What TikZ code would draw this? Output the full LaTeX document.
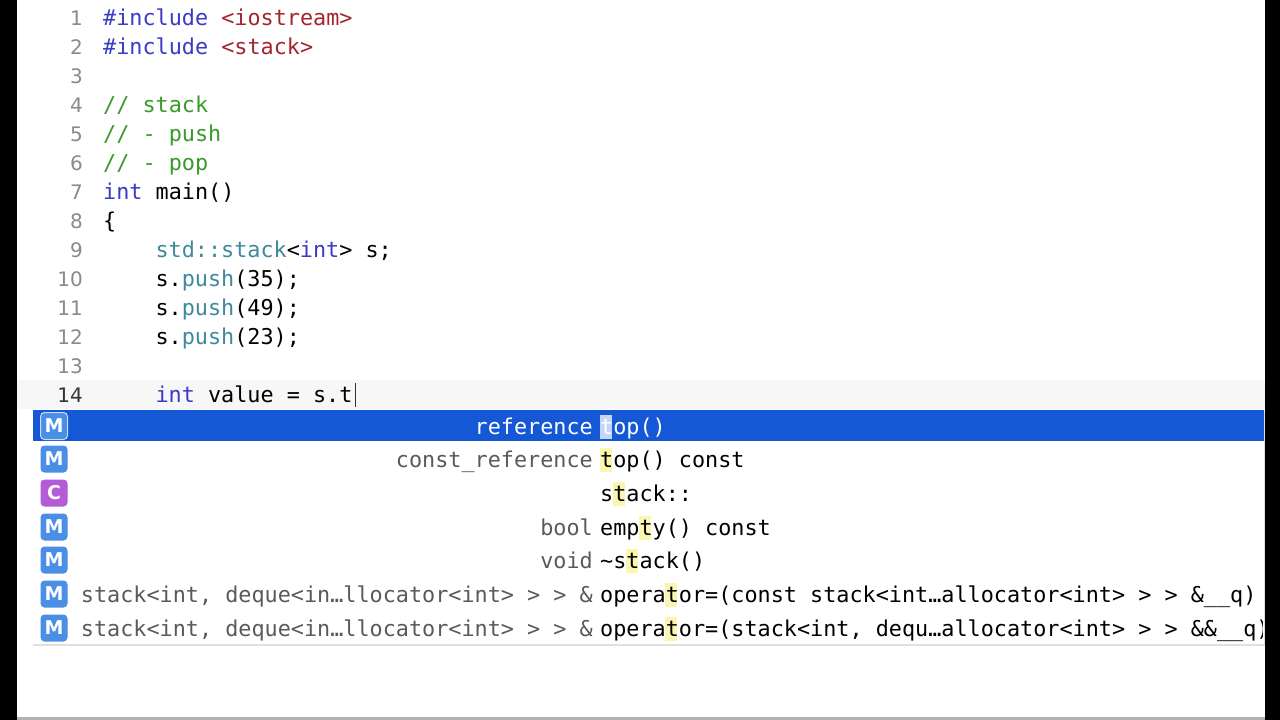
\documentclass[tikz,border=0pt]{standalone}
\usepackage{fontspec}
\setmonofont{DejaVu Sans Mono}
\setsansfont{DejaVu Sans}
\definecolor{kw}{HTML}{3B3BC4}
\definecolor{str}{HTML}{A3262E}
\definecolor{cmt}{HTML}{3A9A2A}
\definecolor{fn}{HTML}{3E8A9C}
\definecolor{gut}{HTML}{8A8A8A}
\definecolor{sel}{HTML}{1458D6}
\definecolor{micon}{HTML}{4A8EE6}
\definecolor{cicon}{HTML}{B25CD8}
\definecolor{hl}{HTML}{FAF6B0}
\definecolor{rt}{HTML}{5A5A5A}
\begin{document}
\begin{tikzpicture}[x=1pt,y=-1pt,
  code/.style={anchor=base west,inner sep=0pt,font=\fontsize{21.8}{22}\ttfamily},
  gnum/.style={anchor=base east,inner sep=0pt,text=gut,font=\fontsize{20}{22}\sffamily},
  rtype/.style={anchor=base east,inner sep=0pt,text=rt,font=\fontsize{21.8}{22}\ttfamily},
  icon/.style={rounded corners=4pt,minimum width=27pt,minimum height=27pt,inner sep=0pt,text=white,font=\fontsize{19}{19}\sffamily\bfseries}]
\useasboundingbox (0,0) rectangle (1280,720);
\fill[black] (0,0) rectangle (1280,720);
\fill[white] (17,0) rectangle (1265,717);
\fill[gray!60] (17,717) rectangle (1265,720);
\fill[black!3] (17,380) rectangle (1265,409);
% gutter
\foreach \n in {1,...,13} \node[gnum] (g\n) at (83,{25+(\n-1)*29}) {\n};
\node[gnum,text=black!80] (g14) at (83,402) {14};
% code
\node[code] (l1) at (103,25) {\textcolor{kw}{\#include} \textcolor{str}{<iostream>}};
\node[code] (l2) at (103,54) {\textcolor{kw}{\#include} \textcolor{str}{<stack>}};
\node[code,text=cmt] (l4) at (103,112) {// stack};
\node[code,text=cmt] (l5) at (103,141) {// - push};
\node[code,text=cmt] (l6) at (103,170) {// - pop};
\node[code] (l7) at (103,199) {\textcolor{kw}{int} main()};
\node[code] (l8) at (103,228) {\{};
\node[code] (l9) at (155.4,257) {\textcolor{fn}{std::stack}<\textcolor{kw}{int}> s;};
\node[code] (l10) at (155.4,286) {s.\textcolor{fn}{push}(35);};
\node[code] (l11) at (155.4,315) {s.\textcolor{fn}{push}(49);};
\node[code] (l12) at (155.4,344) {s.\textcolor{fn}{push}(23);};
\node[code] (l14) at (155.4,402) {\textcolor{kw}{int} value = s.t};
\draw[black!80,line width=0.8pt] (355,383) -- (355,407);
% popup
\fill[black!12] (33,411) rectangle (1265,646);
\fill[white] (33,410) rectangle (1264,644);
\fill[sel] (33,410) rectangle (1264,441);
% highlights
\fill[white!75!sel] (600,415) rectangle (612,439);
\fill[hl] (600,448) rectangle (612,472);
\fill[hl] (613,482) rectangle (625,506);
\fill[hl] (639,516) rectangle (651,540);
\fill[hl] (626,549) rectangle (638,573);
\fill[hl] (665,583) rectangle (677,607);
\fill[hl] (665,617) rectangle (677,641);
% icons
\node[icon,fill=micon,draw=white!70!micon,line width=1pt] (i1) at (54,426) {M};
\node[icon,fill=micon] (i2) at (54,459) {M};
\node[icon,fill=cicon] (i3) at (54,493) {C};
\node[icon,fill=micon] (i4) at (54,527) {M};
\node[icon,fill=micon] (i5) at (54,560) {M};
\node[icon,fill=micon] (i6) at (54,594) {M};
\node[icon,fill=micon] (i7) at (54,628) {M};
% rows
\node[rtype,text=white] (r1) at (593,434) {reference};
\node[code,text=white] (n1) at (600,434) {top()};
\node[rtype] (r2) at (593,467) {const\_reference};
\node[code] (n2) at (600,467) {top() const};
\node[code] (n3) at (600,501) {stack::};
\node[rtype] (r4) at (593,535) {bool};
\node[code] (n4) at (600,535) {empty() const};
\node[rtype] (r5) at (593,568) {void};
\node[code] (n5) at (600,568) {\textasciitilde stack()};
\node[rtype] (r6) at (593,602) {stack<int, deque<in…llocator<int> > > \&};
\node[code] (n6) at (600,602) {operator=(const stack<int…allocator<int> > > \&\_\_q)};
\node[rtype] (r7) at (593,636) {stack<int, deque<in…llocator<int> > > \&};
\begin{scope}
\clip (33,600) rectangle (1262,645);
\node[code] (n7) at (600,636) {operator=(stack<int, dequ…allocator<int> > > \&\&\_\_q)};
\end{scope}
\end{tikzpicture}
\end{document}
